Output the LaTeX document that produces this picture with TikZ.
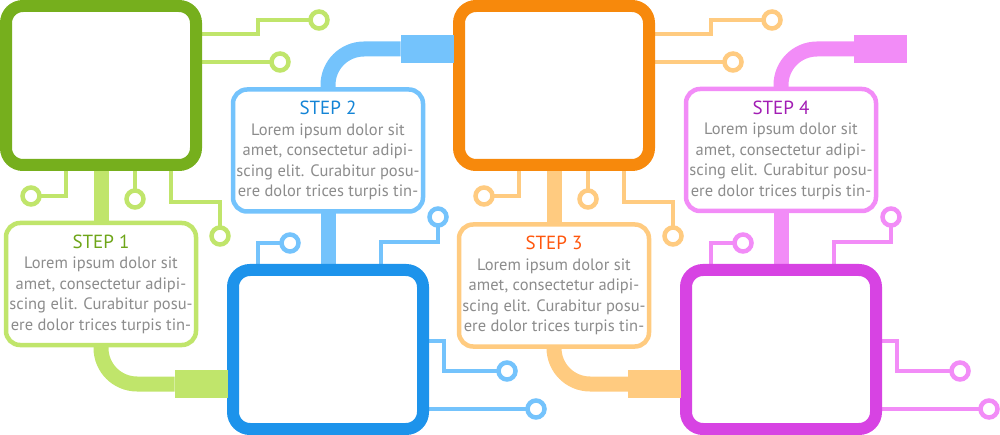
\documentclass[tikz,border=0pt]{standalone}
\usepackage{fontspec}
\setmainfont{PT Sans}
\usetikzlibrary{positioning}
\pgfdeclarelayer{bg}
\pgfsetlayers{bg,main}
\definecolor{grnD}{HTML}{76AF1D}
\definecolor{grnL}{HTML}{C0E56B}
\definecolor{grnT}{HTML}{6EA518}
\definecolor{bluD}{HTML}{1D93EB}
\definecolor{bluL}{HTML}{74C3FC}
\definecolor{bluT}{HTML}{1384D6}
\definecolor{orgD}{HTML}{F7890C}
\definecolor{orgL}{HTML}{FFCB80}
\definecolor{orgT}{HTML}{FF560C}
\definecolor{purD}{HTML}{D743E3}
\definecolor{purL}{HTML}{F28CF7}
\definecolor{purT}{HTML}{A21DB4}
\definecolor{txtgray}{HTML}{8C8C8C}
\newcommand{\steptitle}[2]{{\color{#1}\fontsize{19}{20}\selectfont #2}}
\newcommand{\lorem}{Lorem ipsum dolor sit\\ amet, consectetur adipi-\\ scing elit. Curabitur posu-\\ ere dolor trices turpis tin-}

\begin{document}
\begin{tikzpicture}[x=1pt,y=-1pt,
  bigbox/.style={draw=#1,line width=12pt,rounded corners=17pt,fill=white,minimum width=190pt,minimum height=159pt,outer sep=0pt},
  textbox/.style={draw=#1,line width=4.5pt,rounded corners=14pt,fill=white,minimum width=190pt,minimum height=122pt,outer sep=0pt,
    text=txtgray,align=center,font=\fontsize{16.5}{20.5}\selectfont},
  via/.style={circle,draw=#1,line width=4.5pt,fill=white,minimum size=17pt,inner sep=0pt,outer sep=0pt},
  plug/.style={fill=#1,minimum width=53pt,minimum height=28pt,inner sep=0pt,outer sep=0pt},
  wire/.style={draw=#1,line width=4.5pt},
  cable/.style={draw=#1,line width=15pt,rounded corners=36pt}]
  \useasboundingbox (0,0) rectangle (1000,435);

  % big boxes
  \node[bigbox=grnD] (box1) at (101,85.5) {};
  \node[bigbox=bluD] (box2) at (328,349.5) {};
  \node[bigbox=orgD] (box3) at (554,85.5) {};
  \node[bigbox=purD] (box4) at (781,349.5) {};

  % step texts
  \node[textbox=grnL] (tb1) at (101,284) {\steptitle{grnT}{STEP 1}\\ \lorem};
  \node[textbox=bluL] (tb2) at (328,150.5) {\steptitle{bluT}{STEP 2}\\ \lorem};
  \node[textbox=orgL] (tb3) at (554,285.5) {\steptitle{orgT}{STEP 3}\\ \lorem};
  \node[textbox=purL] (tb4) at (781,150) {\steptitle{purT}{STEP 4}\\ \lorem};

  % plugs
  \node[plug=grnL] (plug1) at (201,384) {};
  \node[plug=bluL] (plug2) at (427,49) {};
  \node[plug=orgL] (plug3) at (654.5,384) {};
  \node[plug=purL] (plug4) at (880.5,49) {};

  \begin{pgfonlayer}{bg}
    \draw[cable=grnL] (box1.south) -- (tb1.north);
    \draw[cable=grnL] (tb1.south) |- (plug1.west);
    \draw[cable=bluL] (tb2.south) -- (box2.north);
    \draw[cable=bluL] (tb2.north) |- (plug2.west);
    \draw[cable=orgL] (box3.south) -- (tb3.north);
    \draw[cable=orgL] (tb3.south) |- (plug3.west);
    \draw[cable=purL] (tb4.south) -- (box4.north);
    \draw[cable=purL] (tb4.north) |- (plug4.west);
  \end{pgfonlayer}

  % circuit traces of the top boxes
  \foreach \b/\x/\c in {box1/0/grnL, box3/453/orgL}{
    \node[via=\c] (\b-a) at (\x+319,20) {};
    \node[via=\c] (\b-b) at (\x+280,62) {};
    \node[via=\c] (\b-c) at (\x+31,196) {};
    \node[via=\c] (\b-d) at (\x+135,199) {};
    \node[via=\c] (\b-e) at (\x+220,236) {};
    \begin{pgfonlayer}{bg}
      \draw[wire=\c] (\b.east |- 0,34) -| (\x+258,20) -- (\b-a);
      \draw[wire=\c] (\b.east |- 0,62) -- (\b-b);
      \draw[wire=\c] (\b.south -| \x+66,0) |- (\b-c);
      \draw[wire=\c] (\b.south -| \x+135,0) -- (\b-d);
      \draw[wire=\c] (\b.south -| \x+171,0) |- (\x+220,202) -- (\b-e);
    \end{pgfonlayer}
  }

  % circuit traces of the bottom boxes
  \foreach \b/\x/\c in {box2/228/bluL, box4/681/purL}{
    \node[via=\c] (\b-a) at (\x+62,243) {};
    \node[via=\c] (\b-b) at (\x+210,217) {};
    \node[via=\c] (\b-c) at (\x+279,371) {};
    \node[via=\c] (\b-d) at (\x+308,409) {};
    \begin{pgfonlayer}{bg}
      \draw[wire=\c] (\b.north -| \x+30,0) |- (\b-a);
      \draw[wire=\c] (\b.north -| \x+153,0) |- (\x+210,242) -- (\b-b);
      \draw[wire=\c] (\b.east |- 0,341) -| (\x+216,371) -- (\b-c);
      \draw[wire=\c] (\b.east |- 0,409) -- (\b-d);
    \end{pgfonlayer}
  }
\end{tikzpicture}
\end{document}
